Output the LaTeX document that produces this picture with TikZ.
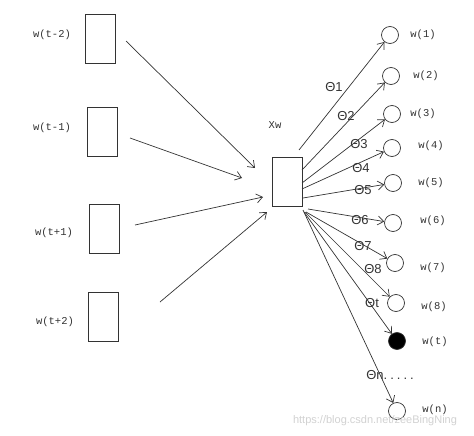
\documentclass[tikz,border=0pt]{standalone}
\usepackage{fontspec}
\setmainfont{Liberation Serif}
\newfontfamily\wordfont{Liberation Mono}
\newfontfamily\thetafont{Liberation Sans}
\usetikzlibrary{arrows.meta}

\tikzset{
	inbox/.style={draw, minimum width=30pt, minimum height=49pt, inner sep=0pt},
	outword/.style={draw, circle, minimum size=17pt, inner sep=0pt},
	wlabel/.style={font=\wordfont\fontsize{10.5}{12}\selectfont},
	theta/.style={font=\thetafont\fontsize{13}{14}\selectfont, inner sep=0pt},
}

\begin{document}
\begin{tikzpicture}[x=1pt,y=-1pt, color=black!80, line width=0.7pt, >={Straight Barb[length=6pt,width=9pt]}]
		\useasboundingbox (0,0) rectangle (474,436);
		% context words
		\node[inbox] (b1) at (100,38.5) {};
		\node[inbox] (b2) at (102,131.5) {};
		\node[inbox] (b3) at (104,228.5) {};
		\node[inbox] (b4) at (103,317) {};
		\node[wlabel] (l1) at (52,35) {w(t-2)};
		\node[wlabel] (l2) at (52,128) {w(t-1)};
		\node[wlabel] (l3) at (54,233) {w(t+1)};
		\node[wlabel] (l4) at (55,322) {w(t+2)};
		
		% projection
		\node[inbox] (xw) at (287,182) {};
		\node[wlabel] (xl) at (275,125) {Xw};
		
		\coordinate (i1) at (126,41);  \coordinate (j1) at (255,168);
		\coordinate (i2) at (130,138); \coordinate (j2) at (242,178);
		\coordinate (i3) at (135,225); \coordinate (j3) at (263,197);
		\coordinate (i4) at (160,302); \coordinate (j4) at (267,212);
		\draw[->] (i1)--(j1);
		\draw[->] (i2)--(j2);
		\draw[->] (i3)--(j3);
		\draw[->] (i4)--(j4);
		
		% output words
		\node[outword] (c1) at (390,35) {};
		\node[outword] (c2) at (391,76) {};
		\node[outword] (c3) at (392,114) {};
		\node[outword] (c4) at (392,148) {};
		\node[outword] (c5) at (393,183) {};
		\node[outword] (c6) at (393,223) {};
		\node[outword] (c7) at (395,263) {};
		\node[outword] (c8) at (396,303) {};
		\node[outword, fill=black] (ct) at (397,341) {};
		\node[outword] (cn) at (397,411) {};
		
		\node[wlabel] (w1) at (423,35) {w(1)};
		\node[wlabel] (w2) at (426,76) {w(2)};
		\node[wlabel] (w3) at (423,114) {w(3)};
		\node[wlabel] (w4) at (431,146) {w(4)};
		\node[wlabel] (w5) at (431,183) {w(5)};
		\node[wlabel] (w6) at (433,221) {w(6)};
		\node[wlabel] (w7) at (433,268) {w(7)};
		\node[wlabel] (w8) at (434,307) {w(8)};
		\node[wlabel] (wt) at (435,342) {w(t)};
		\node[wlabel] (wn) at (435,410) {w(n)};
		
		\coordinate (o1) at (299,150);
		\coordinate (o2) at (302,170);
		\coordinate (o3) at (302,183);
		\coordinate (o4) at (302,189);
		\coordinate (o5) at (303,198);
		\coordinate (o6) at (308,209);
		\coordinate (o7) at (306,212);
		\coordinate (o8) at (305,212);
		\coordinate (ot) at (304,212);
		\coordinate (on) at (303,210);
		\draw[->] (o1)--(c1);
		\draw[->] (o2)--(c2);
		\draw[->] (o3)--(c3);
		\draw[->] (o4)--(c4);
		\draw[->] (o5)--(c5);
		\draw[->] (o6)--(c6);
		\draw[->] (o7)--(c7);
		\draw[->] (o8)--(c8);
		\draw[->] (ot)--(ct);
		\draw[->] (on)--(cn);
		
		\node[theta] (t1) at (334,87) {Θ1};
		\node[theta] (t2) at (346,116) {Θ2};
		\node[theta] (t3) at (359,144) {Θ3};
		\node[theta] (t4) at (361,168) {Θ4};
		\node[theta] (t5) at (363,190) {Θ5};
		\node[theta] (t6) at (360,220) {Θ6};
		\node[theta] (t7) at (363,246) {Θ7};
		\node[theta] (t8) at (373,269) {Θ8};
		\node[theta] (tt) at (372,303) {Θt};
		\node[theta, anchor=west] (tn) at (366,375) {Θn.\kern3pt.\kern3pt.\kern3pt.\kern3pt.};
		
		\node[font=\thetafont\fontsize{11}{12}\selectfont, text=black!18] (mark) at (375,421) {https://blog.csdn.net/zeeBingNing};
	\end{tikzpicture}
\end{document}
